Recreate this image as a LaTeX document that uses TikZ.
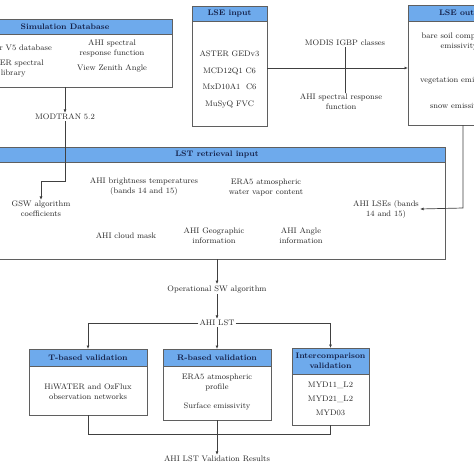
\documentclass[tikz,border=0pt]{standalone}
\usetikzlibrary{arrows.meta}
\definecolor{hdr}{RGB}{110,170,236}
\definecolor{hdrtxt}{RGB}{20,32,72}
\definecolor{ln}{RGB}{95,95,95}
\begin{document}
\begin{tikzpicture}[x=1pt,y=-1pt,
  font=\fontsize{8}{10}\selectfont,
  box/.style={draw=ln, line width=0.7pt, fill=white, inner sep=0pt, outer sep=0pt},
  hdrbox/.style={draw=ln, line width=0.7pt, fill=hdr, inner sep=0pt, outer sep=0pt,
     font=\fontsize{8}{10}\selectfont\bfseries, text=hdrtxt, align=center},
  lbl/.style={align=center, inner sep=1pt, text=black!85},
  conn/.style={draw=black!75, line width=0.7pt},
  arr/.style={conn, -{Latex[length=3.5pt,width=3pt]}}]
\path[use as bounding box] (0,0) rectangle (474,474);
\clip (0,0) rectangle (474,474);
\fill[white] (0,0) rectangle (474,474);

% Simulation Database
\node[box, minimum width=214pt, minimum height=68pt] (sim) at (65,53) {};
\node[hdrbox, minimum width=214pt, minimum height=15pt] (simh) at (65,26.5) {Simulation Database};
\node[lbl, anchor=east] (seebor) at (53,48) {SeeBor V5 database};
\node[lbl, anchor=east] (aster) at (45,68) {ASTER spectral\\library};
\node[lbl] (ahisrf) at (112,48) {AHI spectral\\response function};
\node[lbl] (vza) at (112,68) {View Zenith Angle};
\node[lbl] (modtran) at (65,117) {MODTRAN 5.2};

% LSE input
\node[box, minimum width=75pt, minimum height=120pt] (lsein) at (229.5,66) {};
\node[hdrbox, minimum width=75pt, minimum height=15pt] (lseinh) at (229.5,13.5) {LSE input};
\node[lbl] (ged) at (229.5,54) {ASTER GEDv3};
\node[lbl] (mcd) at (229.5,71) {MCD12Q1 C6};
\node[lbl] (mxd) at (229.5,87) {MxD10A1\ \ C6};
\node[lbl] (musyq) at (229.5,104) {MuSyQ FVC};

% LSE output
\node[box, minimum width=112pt, minimum height=120pt] (lseout) at (464,65) {};
\node[hdrbox, minimum width=112pt, minimum height=16pt] (lseouth) at (464,13) {LSE output};
\node[lbl] (bare) at (459,41.5) {bare soil component\\emissivity};
\node[lbl] (veg) at (459,81) {vegetation emissivity};
\node[lbl] (snow) at (459,107) {snow emissivity};

\node[lbl] (igbp) at (345,43) {MODIS IGBP classes};
\node[lbl] (ahisrf2) at (341,102) {AHI spectral response\\function};

% LST retrieval input
\node[box, minimum width=456pt, minimum height=112pt] (lst) at (217,203) {};
\node[hdrbox, minimum width=456pt, minimum height=15pt] (lsth) at (217,154.5) {LST retrieval input};
\node[lbl] (gsw) at (41,209) {GSW algorithm\\coefficients};
\node[lbl] (bt) at (144,187) {AHI brightness temperatures\\(bands 14 and 15)};
\node[lbl] (era5w) at (266,187) {ERA5 atmospheric\\water vapor content};
\node[lbl] (lses) at (386,209) {AHI LSEs (bands\\14 and 15)};
\node[lbl] (cloud) at (126,236) {AHI cloud mask};
\node[lbl] (geo) at (214,236) {AHI Geographic\\information};
\node[lbl] (angle) at (301,236) {AHI Angle\\information};

% Algorithm chain
\node[lbl] (sw) at (217,289) {Operational SW algorithm};
\node[lbl] (ahilst) at (217,323) {AHI LST};

% Validation boxes
\node[box, minimum width=118pt, minimum height=66pt] (tb) at (88,382) {};
\node[hdrbox, minimum width=118pt, minimum height=17pt] (tbh) at (88,357.5) {T-based validation};
\node[lbl] (hiwater) at (88,392) {HiWATER and OzFlux\\observation networks};

\node[box, minimum width=108pt, minimum height=71pt] (rb) at (217,384.5) {};
\node[hdrbox, minimum width=108pt, minimum height=17pt] (rbh) at (217,357.5) {R-based validation};
\node[lbl] (era5p) at (217,382) {ERA5 atmospheric\\profile};
\node[lbl] (semis) at (217,406) {Surface emissivity};

\node[box, minimum width=77pt, minimum height=77pt] (ib) at (330.5,386.5) {};
\node[hdrbox, minimum width=77pt, minimum height=26pt] (ibh) at (330.5,361) {Intercomparison\\validation};
\node[lbl] (myd11) at (330.5,385) {MYD11\_L2};
\node[lbl] (myd21) at (330.5,399) {MYD21\_L2};
\node[lbl] (myd03) at (330.5,413) {MYD03};

\node[lbl] (res) at (217,459) {AHI LST Validation Results};

% connectors
\coordinate (simb) at (65,87);
\draw[arr] (simb) -- (modtran.north);
\coordinate (gswturn) at (65,181);
\draw[arr] (modtran.south) -- (gswturn) -| (gsw.north);

\coordinate (lsein1) at (267,68);
\coordinate (lseout1) at (408,68);
\draw[arr] (lsein1) -- (lseout1);
\draw[conn] (igbp.south) -- (igbp.south |- ahisrf2.north);

\coordinate (lseoutb) at (463,125);
\coordinate (lseturn) at (463,208);
\draw[arr] (lseoutb) -- (lseturn) -- (lses.east);

\coordinate (lstb) at (217,259);
\draw[arr] (lstb) -- (sw.north);
\draw[arr] (sw.south) -- (ahilst.north);
\draw[arr] (ahilst.south) -- (rbh.north);
\draw[arr] (ahilst.west) -| (tbh.north);
\draw[arr] (ahilst.east) -| (ibh.north);

\coordinate (jl) at (88,434);
\coordinate (jr) at (330.5,434);
\draw[conn] (tb.south) -- (jl) -- (jr) -- (ib.south);
\draw[arr] (rb.south) -- (res.north);
\end{tikzpicture}
\end{document}
